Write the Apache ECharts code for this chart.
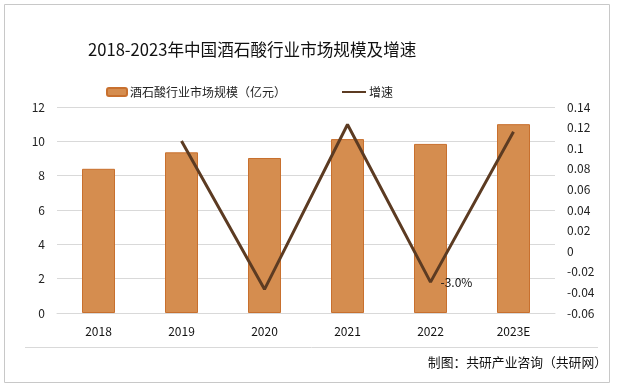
<!DOCTYPE html>
<html><head><meta charset="utf-8">
<script src="https://cdn.jsdelivr.net/npm/echarts@6/dist/echarts.min.js"></script>
<style>html,body{margin:0;padding:0;background:#fff}#c{width:617px;height:387px}</style>
</head><body><div id="c"></div>
<script>
const categories = ['2018','2019','2020','2021','2022','2023E'];
const marketSize = [8.4, 9.36, 9.03, 10.13, 9.85, 11.0];
const growth = [null, 0.107, -0.037, 0.123, -0.030, 0.116];
const titleText = '2018-2023年中国酒石酸行业市场规模及增速';
const barName = '酒石酸行业市场规模（亿元）';
const lineName = '增速';
const sourceText = '制图：共研产业咨询（共研网）';

const F = '"Noto Sans CJK SC", "Microsoft YaHei", sans-serif';
const chart = echarts.init(document.getElementById('c'));
const legendText = {fontFamily: F, fontSize: 12, color: '#222', padding: [0, 0, 0, -2]};
chart.setOption({
  animation: false,
  textStyle: {fontFamily: F},
  title: {text: titleText, left: 83, top: 36, textStyle: {fontFamily: F, fontSize: 16.6, fontWeight: 'normal', color: '#111'}},
  legend: [
    {top: 81, left: 101, itemWidth: 20, itemHeight: 8, textStyle: legendText, data: [barName]},
    {top: 81, left: 336, itemWidth: 24, itemHeight: 8, textStyle: legendText,
     data: [{name: lineName, itemStyle: {opacity: 0}}]}
  ],
  grid: {left: 57, right: 62, top: 107, bottom: 74},
  xAxis: {
    type: 'category', data: categories,
    axisLine: {lineStyle: {color: '#d9d9d9'}}, axisTick: {show: false},
    axisLabel: {color: '#111', fontSize: 12, margin: 12, fontFamily: F}
  },
  yAxis: [
    {type: 'value', min: 0, max: 12, interval: 2,
     axisLine: {show: false}, axisTick: {show: false},
     splitLine: {lineStyle: {color: '#d9d9d9'}},
     axisLabel: {color: '#222', fontSize: 12, margin: 12, fontFamily: F}},
    {type: 'value', min: -0.06, max: 0.14, interval: 0.02,
     axisLine: {show: false}, axisTick: {show: false}, splitLine: {show: false},
     axisLabel: {color: '#222', fontSize: 12, margin: 12, fontFamily: F,
       formatter: v => String(Number(v.toFixed(2)))}}
  ],
  series: [
    {name: barName, type: 'bar', data: marketSize, barWidth: 33,
     itemStyle: {color: '#D58D4F', borderColor: '#C8702E', borderWidth: 1}},
    {name: lineName, type: 'line', yAxisIndex: 1, data: growth, symbol: 'none',
     lineStyle: {color: '#5C3B22', width: 3}, itemStyle: {color: '#5C3B22'},
     label: {show: false},
     markPoint: {symbol: 'circle', symbolSize: 0,
       data: [{coord: ['2022', -0.030], value: '-3.0%'}],
       label: {show: true, position: 'right', offset: [5, 0], color: '#111', fontSize: 12, fontFamily: F, formatter: '-3.0%'}}}
  ],
  graphic: [
    {type: 'rect', shape: {x: 4.5, y: 4.5, width: 605, height: 378}, style: {fill: 'none', stroke: '#c8c8c8', lineWidth: 1}, silent: true},
    {type: 'line', shape: {x1: 25, y1: 347.5, x2: 598, y2: 347.5}, style: {stroke: '#d9d9d9', lineWidth: 1}, silent: true},
    {type: 'text', right: 10, top: 356, style: {text: sourceText, fontFamily: F, fontSize: 12.8, fill: '#111'}}
  ]
});
</script></body></html>
